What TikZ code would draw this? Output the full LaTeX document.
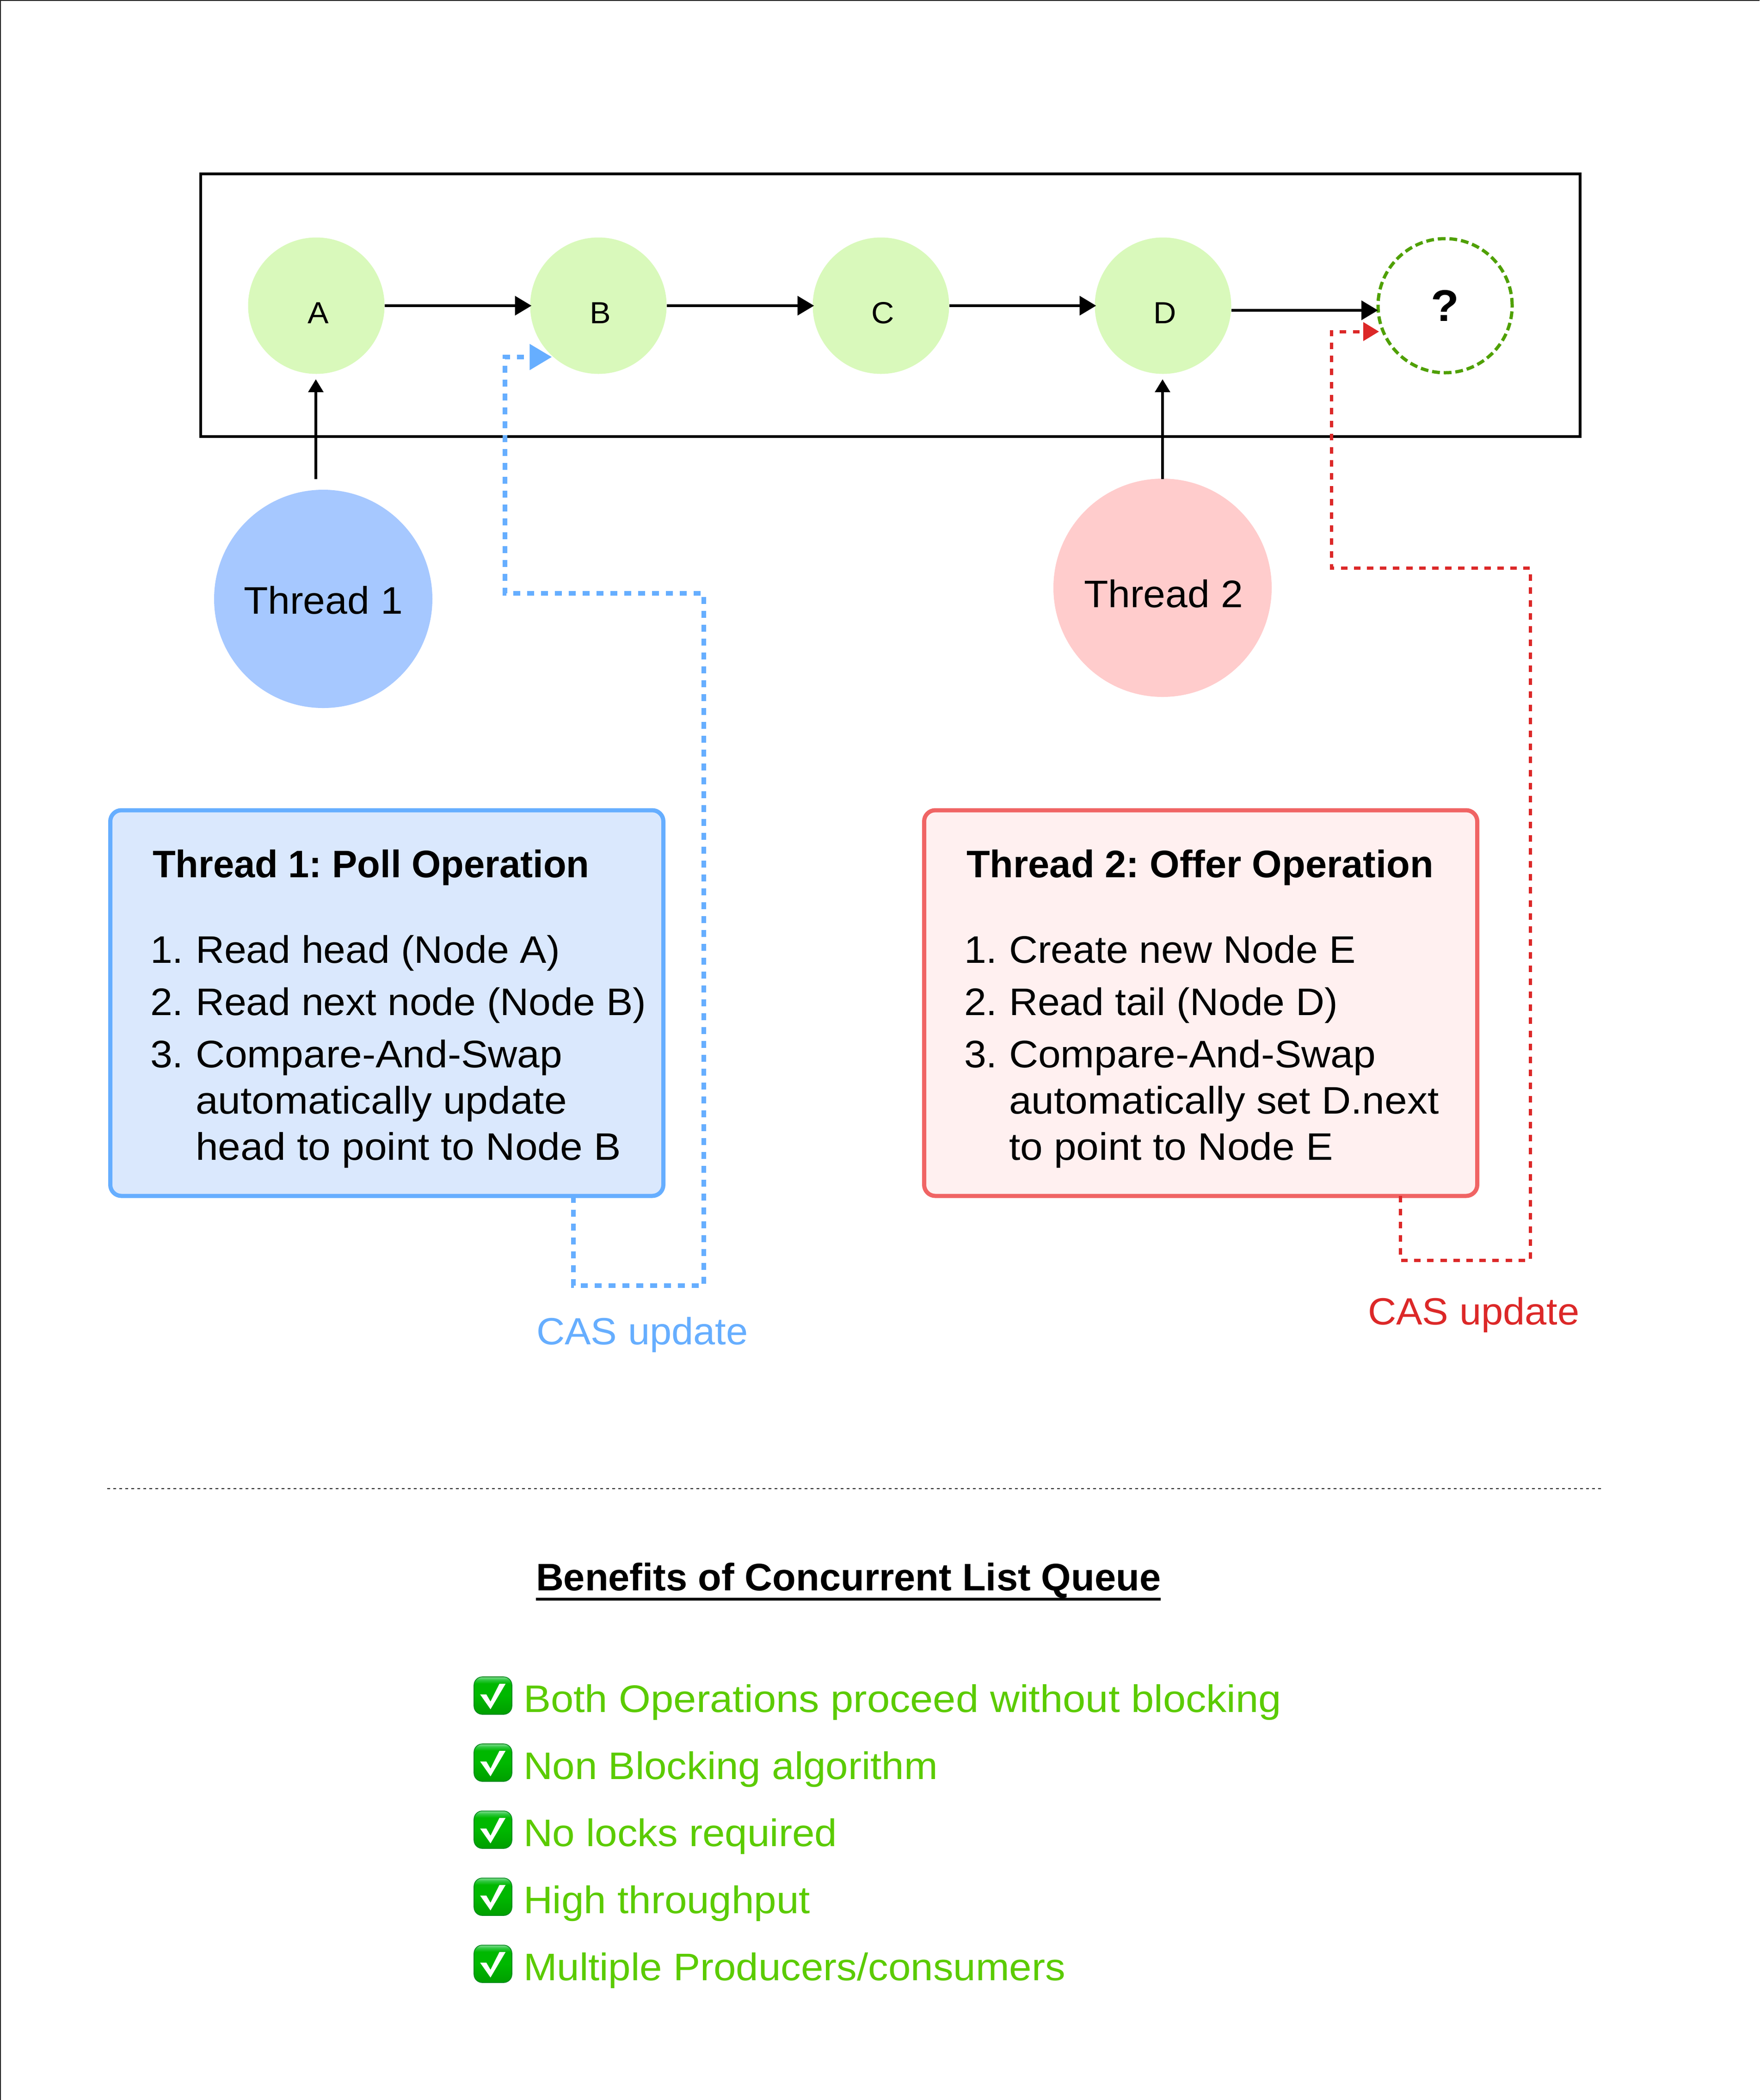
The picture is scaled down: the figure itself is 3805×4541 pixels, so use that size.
\documentclass[tikz,border=0pt]{standalone}
\usepackage{fontspec}
\setmainfont[FakeStretch=1.035]{Liberation Sans}
\newfontfamily\bodywide[FakeStretch=1.055]{Liberation Sans}
\newfontfamily\headfont[FakeStretch=1.0]{Liberation Sans}
\newfontfamily\headnarrow[FakeStretch=0.98]{Liberation Sans}
\newfontfamily\greenfont[FakeStretch=1.05]{Liberation Sans}
\newfontfamily\greenwide[FakeStretch=1.067]{Liberation Sans}
\usetikzlibrary{arrows.meta,shadings}
\definecolor{nodegreen}{HTML}{D9F9BB}
\definecolor{dashgreen}{HTML}{4FA000}
\definecolor{tonea}{HTML}{A6C8FF}
\definecolor{ttwoa}{HTML}{FFCCCC}
\definecolor{casblue}{HTML}{66AEFF}
\definecolor{casred}{HTML}{DC2828}
\definecolor{boxblue}{HTML}{DAE8FD}
\definecolor{boxred}{HTML}{FFF0F0}
\definecolor{edgered}{HTML}{F06464}
\definecolor{okgreen}{HTML}{5BCB00}
\definecolor{okb}{HTML}{009E00}
\definecolor{okm}{HTML}{00B800}
\definecolor{okh}{HTML}{30C840}
\definecolor{okt}{HTML}{80DC90}
\definecolor{okdark}{HTML}{088A20}
\pgfdeclareverticalshading{okshade}{100bp}{color(0bp)=(okb);color(25bp)=(okb);color(50bp)=(okm);color(66bp)=(okm);color(71bp)=(okh);color(75bp)=(okt);color(100bp)=(okt)}
\newcommand{\lowered}[2]{\raisebox{#1}[0pt][0pt]{#2}}
\tikzset{
  x=0.25pt,y=-0.25pt,
  fnode/.style={circle,fill=nodegreen,minimum size=73.75pt,inner sep=0pt,outer sep=0pt,font=\fontsize{16.5pt}{20pt}\selectfont},
  qnode/.style={circle,draw=dashgreen,line width=1.75pt,dash pattern=on 4.2pt off 2.1pt,minimum size=72.5pt,inner sep=0pt,outer sep=0pt,font=\fontsize{24pt}{28pt}\selectfont\bfseries},
  thr/.style={circle,minimum size=118pt,inner sep=0pt,outer sep=0pt,font=\fontsize{20.75pt}{26pt}\selectfont},
  arr/.style={line width=1.7pt,shorten >=-0.75pt,-{Triangle[length=9pt,width=10.25pt]}},
  uparr/.style={line width=1.5pt,-{Triangle[length=7pt,width=8pt]}},
  opbox/.style={rounded corners=6pt,line width=2.25pt,minimum width=299pt,minimum height=208.5pt,inner sep=0pt,outer sep=0pt},
  body/.style={anchor=base west,inner sep=0pt,outer sep=0pt,font=\fontsize{20.75pt}{25pt}\selectfont},
  head/.style={body,font=\fontsize{20.75pt}{25pt}\selectfont\headfont\bfseries},
  caslab/.style={body,font=\fontsize{20.5pt}{25pt}\selectfont},
  casb/.style={draw=casblue,line width=2.5pt,dash pattern=on 3.75pt off 3.75pt,-{Triangle[length=12pt,width=13.5pt,fill=casblue]}},
  casr/.style={draw=casred,line width=1.75pt,dash pattern=on 3.5pt off 3.55pt,-{Triangle[length=8.5pt,width=9.75pt,fill=casred]}},
  okmark/.pic={
    \shadedraw[shading=okshade,draw=okdark,line width=0.4pt,rounded corners=4.5pt]
      (0,0) rectangle (82,81);
    \fill[white] (13.3,38) -- (26.7,38) -- (35.7,53.3) -- (55,15) -- (68.3,15) -- (35.7,70) -- cycle;
  },
}
\begin{document}
\frenchspacing
\begin{tikzpicture}
\useasboundingbox (0,0) rectangle (3805,4541);
\fill[white] (0,0) rectangle (3805,4541);
\draw[color=black!85,line width=0.5pt] (3805,1) -- (1,1) -- (1,4541);

\draw[black,line width=1.5pt] (434,376) rectangle (3417,944);

\node[fnode] (A) at (684,661) {\lowered{-9.5pt}{\hspace{2pt}A}};
\node[fnode] (B) at (1294,661) {\lowered{-9.5pt}{\hspace{2pt}B}};
\node[fnode] (C) at (1905,661) {\lowered{-9.5pt}{\hspace{2pt}C}};
\node[fnode] (D) at (2515,661) {\lowered{-9.5pt}{\hspace{2pt}D}};
\node[qnode] (Q) at (3125,661) {\lowered{-8.3pt}{?}};

\node[thr,fill=tonea] (T1) at (699,1295) {\lowered{-8pt}{Thread 1}};
\node[thr,fill=ttwoa] (T2) at (2514,1271) {\lowered{-10.5pt}{\hspace{1pt}Thread 2}};

\draw[arr] (A.east) -- (B.west);
\draw[arr] (B.east) -- (C.west);
\draw[arr] (C.east) -- (D.west);
\draw[arr,shorten >=0pt] ([yshift=-2.5pt]D.east) -- ([yshift=-2.5pt]Q.west);
\coordinate (T1up) at (683,1036);
\coordinate (T1top) at (683,820);
\coordinate (T2up) at (2514,1036);
\coordinate (T2top) at (2514,820);
\draw[uparr] (T1up) -- (T1top);
\draw[uparr] (T2up) -- (T2top);

\node[opbox,draw=casblue,fill=boxblue] (BoxOne) at (836.5,2169) {};
\node[opbox,draw=edgered,fill=boxred] (BoxTwo) at (2596.5,2169) {};

\node[head] (t1h) at (330,1897) {\headnarrow\bfseries Thread 1: Poll Operation};
\node[body] (t1n1) at (325,2082) {1.};
\node[body] (t1n2) at (325,2195) {2.};
\node[body] (t1n3) at (325,2308) {3.};
\node[body] (t1a) at (423,2082) {Read head (Node A)};
\node[body] (t1b) at (423,2195) {Read next node (Node B)};
\node[body] (t1c) at (423,2308) {\bodywide Compare-And-Swap};
\node[body] (t1d) at (423,2408) {\bodywide automatically update};
\node[body] (t1e) at (423,2508) {\bodywide head to point to Node B};

\node[head] (t2h) at (2090,1897) {Thread 2: Offer Operation};
\node[body] (t2n1) at (2085,2082) {1.};
\node[body] (t2n2) at (2085,2195) {2.};
\node[body] (t2n3) at (2085,2308) {3.};
\node[body] (t2a) at (2182,2082) {Create new Node E};
\node[body] (t2b) at (2182,2195) {Read tail (Node D)};
\node[body] (t2c) at (2182,2308) {\bodywide Compare-And-Swap};
\node[body] (t2d) at (2182,2408) {\bodywide automatically set D.next};
\node[body] (t2e) at (2182,2508) {\bodywide to point to Node E};

\coordinate (bx) at (1240,2780);
\coordinate (bm) at (1522,1283);
\coordinate (bl) at (1092,772);
\draw[casb] (BoxOne.south -| bx) -- (bx) -- (bx -| bm) -- (bm) -- (bm -| bl) -- (bl) -- (B.227.7 |- bl);
\coordinate (rx) at (3028,2725);
\coordinate (rm) at (3309,1228);
\coordinate (rl) at (2879,717);
\draw[casr] (BoxTwo.south -| rx) -- (rx) -- (rx -| rm) -- (rm) -- (rm -| rl) -- (rl) -- (Q.190 |- rl);

\node[caslab,text=casblue] (casone) at (1160,2907) {CAS update};
\node[caslab,text=casred] (castwo) at (2958,2864) {CAS update};

\coordinate (sepl) at (232,3219);
\coordinate (sepr) at (3466,3219);
\draw[black,line width=0.7pt,dash pattern=on 1.6pt off 1.65pt] (sepl) -- (sepr);

\node[head] (ben) at (1159,3439) {Benefits of Concurrent List Queue};
\draw[black,line width=1.5pt] ([yshift=-4.75pt]ben.base west) -- ([yshift=-4.75pt]ben.base east);

\foreach \yy/\txt/\nn/\ff in {3626/Both Operations proceed without blocking/a/\greenwide,3771/Non Blocking algorithm/b/\greenfont,3916/No locks required/c/\greenfont,4061/High throughput/d/\greenfont,4206/Multiple Producers\slash consumers/e/\greenfont}{
  \pic at (1025,\yy) {okmark};
  \node[body,text=okgreen] (ok\nn) at (1132,\yy+76) {\ff\txt};
}
\end{tikzpicture}
\end{document}
